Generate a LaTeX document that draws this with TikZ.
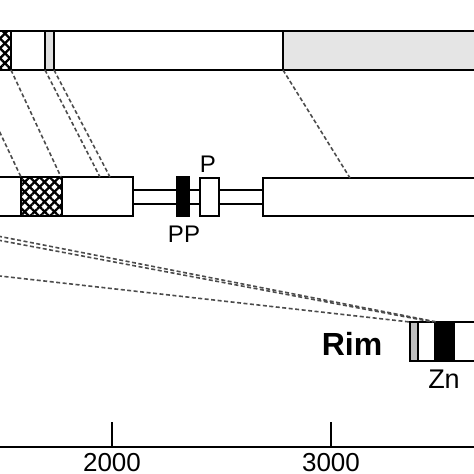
\documentclass[tikz,border=0pt]{standalone}
\usepackage{fontspec}
\setmainfont{Liberation Sans}
\usetikzlibrary{patterns.meta}
\begin{document}
\begin{tikzpicture}[x=1pt,y=-1pt,
  box/.style={draw=black,line width=1.7pt,fill=white},
  conn/.style={draw=black!70,line width=1.6pt,dash pattern=on 4pt off 2.5pt},
  meshA/.style={pattern={Lines[angle=45,distance=7pt,line width=2.3pt]}},
  meshB/.style={pattern={Lines[angle=-45,distance=7pt,line width=2.3pt]}},
  lbl/.style={inner sep=0pt,anchor=base,font=\fontsize{24}{24}\selectfont},
  axis/.style={draw=black,line width=1.8pt}
]
\useasboundingbox (0,0) rectangle (474,474);
\clip (0,0) rectangle (474,474);

% ---------- top bar ----------
\draw[box] (-5,31) rectangle (480,70);
\fill[meshA] (-5,31) rectangle (11,70);
\fill[meshB] (-5,31) rectangle (11,70);
\draw[box,fill=gray!25] (45,31) rectangle (54,70);
\draw[box,fill=gray!20] (283,31) rectangle (480,70);
\draw[line width=1.7pt] (11,31) -- (11,70);
\draw[line width=1.7pt] (-5,31) -- (480,31) (-5,70) -- (480,70);

\coordinate (t1) at (11,70);
\coordinate (t2) at (45,70);
\coordinate (t3) at (54,70);
\coordinate (t4) at (283,70);
\coordinate (t0) at (-6,120);

% ---------- middle row ----------
\draw[line width=1.7pt] (133,190) -- (263,190) (133,204) -- (263,204);
\draw[box] (-5,177) rectangle (133,216);
\fill[meshA] (21,177) rectangle (62,216);
\fill[meshB] (21,177) rectangle (62,216);
\draw[line width=1.7pt] (21,177) rectangle (62,216);
\draw[line width=1.7pt] (-5,177) -- (133,177) (-5,216) -- (133,216);
\draw[box,fill=black] (177,177) rectangle (189,216);
\draw[box] (200,178) rectangle (219,216);
\draw[box] (263,178) rectangle (480,216);

\coordinate (m0) at (21,177);
\coordinate (m1) at (61,177);
\coordinate (m2) at (100,177);
\coordinate (m3) at (110,177);
\coordinate (m4) at (350,178);

\node[lbl] (P) at (208,172) {P};
\node[lbl] (PP) at (184,242) {PP};

% ---------- Rim ----------
\draw[box] (410,322) rectangle (480,361);
\draw[box,fill=gray!50] (410,322) rectangle (418,361);
\draw[box,fill=black] (435,322) rectangle (454,361);

\coordinate (r1) at (410,322);
\coordinate (r2) at (437,322);
\coordinate (r3) at (433,322);
\coordinate (s1) at (-2,275.8);
\coordinate (s2) at (-2,236.1);
\coordinate (s3) at (-2,240.1);

\node[lbl,font=\fontsize{32}{32}\selectfont\bfseries] (Rim) at (352,355) {Rim};
\node[lbl,font=\fontsize{27}{27}\selectfont] (Zn) at (444,388) {Zn};

% ---------- dashed connectors ----------
\draw[conn] (t1) -- (m1);
\draw[conn] (t2) -- (m2);
\draw[conn] (t3) -- (m3);
\draw[conn] (t4) -- (m4);
\draw[conn] (t0) -- (m0);
\draw[conn] (s1) -- (r1);
\draw[conn] (s2) -- (r2);
\draw[conn] (s3) -- (r3);

% ---------- axis ----------
\coordinate (a0) at (-5,447);
\coordinate (a1) at (480,447);
\draw[axis] (a0) -- (a1);
\draw[axis] (112,447) -- (112,422);
\draw[axis] (331,447) -- (331,422);
\node[lbl,font=\fontsize{26}{26}\selectfont] (l2) at (112,471) {2000};
\node[lbl,font=\fontsize{26}{26}\selectfont] (l3) at (331,471) {3000};
\end{tikzpicture}
\end{document}
